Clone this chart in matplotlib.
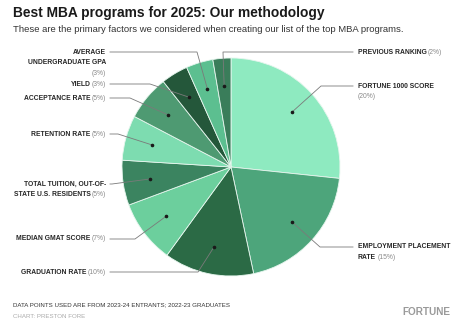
import matplotlib
matplotlib.use("Agg")
import matplotlib.pyplot as plt
import numpy as np

# methodology weights, clockwise from 12 o'clock
factors = ['FORTUNE 1000 SCORE\n', 'EMPLOYMENT PLACEMENT\nRATE', 'GRADUATION RATE',
           'MEDIAN GMAT SCORE', 'TOTAL TUITION, OUT-OF-\nSTATE U.S. RESIDENTS',
           'RETENTION RATE', 'ACCEPTANCE RATE', 'YIELD',
           'AVERAGE\nUNDERGRADUATE GPA\n', 'PREVIOUS RANKING']
weights = [20, 15, 10, 7, 5, 5, 5, 3, 3, 2]
colors = ['#8eeac0', '#4da57b', '#2b6a45', '#6ccf9d', '#3b8460',
          '#7ddcb0', '#4e9a72', '#24573a', '#5cbf90', '#3a7d5a']

W, H = 474, 330
SANS = ['Liberation Sans', 'DejaVu Sans']
CX, CY, R = 231, H - 167, 109
LBL = 4.9

# label placement: side, label y (px from top), elbow x
side = ['r', 'r', 'l', 'l', 'l', 'l', 'l', 'l', 'l', 'r']
lab_y = [86, 247, 272, 239, 184, 134, 98, 84, 52, 52]
elbow_x = [321, 320, 198, 135, 112, 118, 130, 150, 197, 223]
LEFT_END, RIGHT_END = 110, 353

fig = plt.figure(figsize=(W / 100, H / 100), dpi=100)
ax = fig.add_axes([0, 0, 1, 1])

wedges, _ = ax.pie(weights, colors=colors, startangle=90, counterclock=False,
                   center=(CX, CY), radius=R, frame=True,
                   wedgeprops=dict(edgecolor='#e6f6ee', linewidth=0.6))
ax.set_xlim(0, W); ax.set_ylim(0, H); ax.axis('off')

fig.canvas.draw()
rend = fig.canvas.get_renderer()


def text_w(t):
    return t.get_window_extent(rend).width


def two_tone(x, y, name, pct, ha):
    # bold dark name followed by a gray percentage on the same line
    kw = dict(fontsize=LBL, family=SANS, va='center')
    if ha == 'right':
        tp = ax.text(x, y, pct, color='#8a8a8a', ha='right', **kw)
        if name:
            ax.text(x - text_w(tp) - 1.2, y, name, color='#262626',
                    fontweight='bold', ha='right', **kw)
    else:
        if name:
            tn = ax.text(x, y, name, color='#262626', fontweight='bold', ha='left', **kw)
            x = x + text_w(tn) + 1.2
        ax.text(x, y, pct, color='#8a8a8a', ha='left', **kw)


for w, name, v, s, ly, ex in zip(wedges, factors, weights, side, lab_y, elbow_x):
    mid = np.deg2rad((w.theta1 + w.theta2) / 2)
    dx, dy = CX + 0.75 * R * np.cos(mid), CY + 0.75 * R * np.sin(mid)
    y = H - ly
    end = RIGHT_END if s == 'r' else LEFT_END
    ax.plot([dx, ex, end], [dy, y, y], color='#7a7a7a', lw=0.6, zorder=3)
    ax.plot(dx, dy, 'o', ms=1.6, color='#1a1a1a', zorder=4)

    lines = name.split('\n')
    pct = f'({v}%)'
    tx = end + 5 if s == 'r' else end - 4
    ha = 'left' if s == 'r' else 'right'
    for i, ln in enumerate(lines):
        yy = y - i * 10.7
        if i == len(lines) - 1:
            two_tone(tx, yy, ln, pct, ha)
        else:
            ax.text(tx, yy, ln, fontsize=LBL, family=SANS, fontweight='bold',
                    color='#262626', ha=ha, va='center')

ax.text(13, H - 13, 'Best MBA programs for 2025: Our methodology', fontsize=9.9,
        family=SANS, fontweight='bold', color='#1a1a1a', va='center', ha='left')
ax.text(13, H - 29, 'These are the primary factors we considered when creating our '
        'list of the top MBA programs.', fontsize=6.8, family=SANS,
        color='#333333', va='center', ha='left')
ax.text(13, H - 305, 'DATA POINTS USED ARE FROM 2023-24 ENTRANTS; 2022-23 GRADUATES',
        fontsize=4.45, family=SANS, color='#333333', va='center')
ax.text(13, H - 317, 'CHART: PRESTON FORE', fontsize=4.45, family=SANS,
        color='#aaaaaa', va='center')
ax.text(450, H - 312, 'FORTUNE', fontsize=7.2, family=SANS, fontweight='bold',
        color='#9a9a9a', va='center', ha='right')

fig.savefig('out.png', dpi=100)
